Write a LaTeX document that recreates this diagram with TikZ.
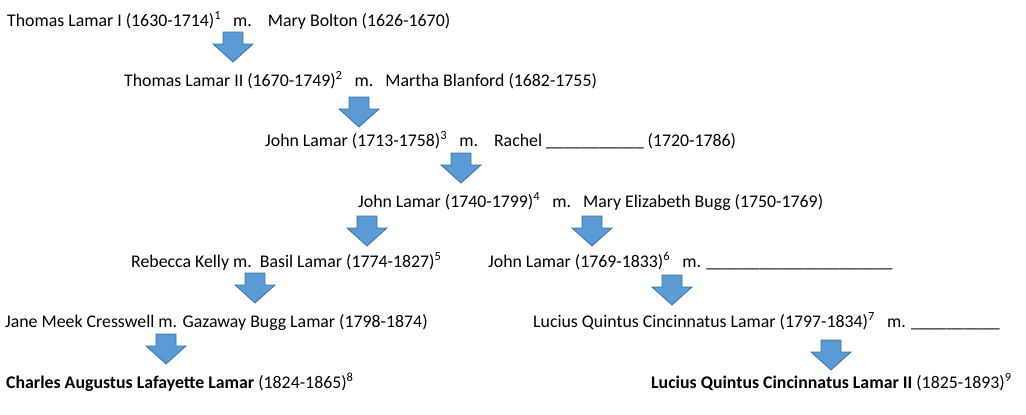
\documentclass[tikz,border=0pt]{standalone}
\usepackage{fontspec}
\setmainfont{Carlito}
\definecolor{arrowblue}{HTML}{5B9BD5}
\definecolor{arrowedge}{HTML}{41719C}
\begin{document}
\begin{tikzpicture}[x=1pt,y=-1pt,
  txt/.style={anchor=base west,inner sep=0pt,font=\fontsize{17.8}{20}\selectfont},
  blockarrow/.style={fill=arrowblue,draw=arrowedge,line width=0.8pt,line join=miter},
  downarrow/.pic={\path[blockarrow] (-10,0) -- (10,0) -- (10,12) -- (20,12) -- (0,30) -- (-20,12) -- (-10,12) -- cycle;}]
\useasboundingbox (0,0) rectangle (1026,415);
\node[txt] (l1) at (7,26) {Thomas Lamar I (1630-1714)\textsuperscript{1}~~~m.~~~~Mary Bolton (1626-1670)};
\node[txt] (l2) at (124,86) {Thomas Lamar II (1670-1749)\textsuperscript{2}~~~m.~~~Martha Blanford (1682-1755)};
\node[txt] (l3) at (265,146) {John Lamar (1713-1758)\textsuperscript{3}~~~m.~~~~Rachel \_\_\_\_\_\_\_\_\_\_\_ (1720-1786)};
\node[txt] (l4) at (358,207) {John Lamar (1740-1799)\textsuperscript{4}~~~m.~~~Mary Elizabeth Bugg (1750-1769)};
\node[txt] (l5a) at (131,267) {Rebecca Kelly m.~~Basil Lamar (1774-1827)\textsuperscript{5}};
\node[txt] (l5b) at (488,267) {John Lamar (1769-1833)\textsuperscript{6}~~~m. \_\_\_\_\_\_\_\_\_\_\_\_\_\_\_\_\_\_\_\_\_};
\node[txt] (l6a) at (5,327) {Jane Meek Cresswell m. Gazaway Bugg Lamar (1798-1874)};
\node[txt] (l6b) at (533,327) {Lucius Quintus Cincinnatus Lamar (1797-1834)\textsuperscript{7}~~~m. \_\_\_\_\_\_\_\_\_\_};
\node[txt] (l7a) at (6,388) {\textbf{Charles Augustus Lafayette Lamar} (1824-1865)\textsuperscript{8}};
\node[txt] (l7b) at (651,388) {\textbf{Lucius Quintus Cincinnatus Lamar II} (1825-1893)\textsuperscript{9}};
\pic (a1) at (233,32) {downarrow};
\pic (a2) at (359,97) {downarrow};
\pic (a3) at (461,153) {downarrow};
\pic (a4) at (367,216) {downarrow};
\pic (a5) at (592,216) {downarrow};
\pic (a6) at (255,273) {downarrow};
\pic (a7) at (672,275) {downarrow};
\pic (a8) at (166,334) {downarrow};
\pic (a9) at (831,340) {downarrow};
\end{tikzpicture}
\end{document}
